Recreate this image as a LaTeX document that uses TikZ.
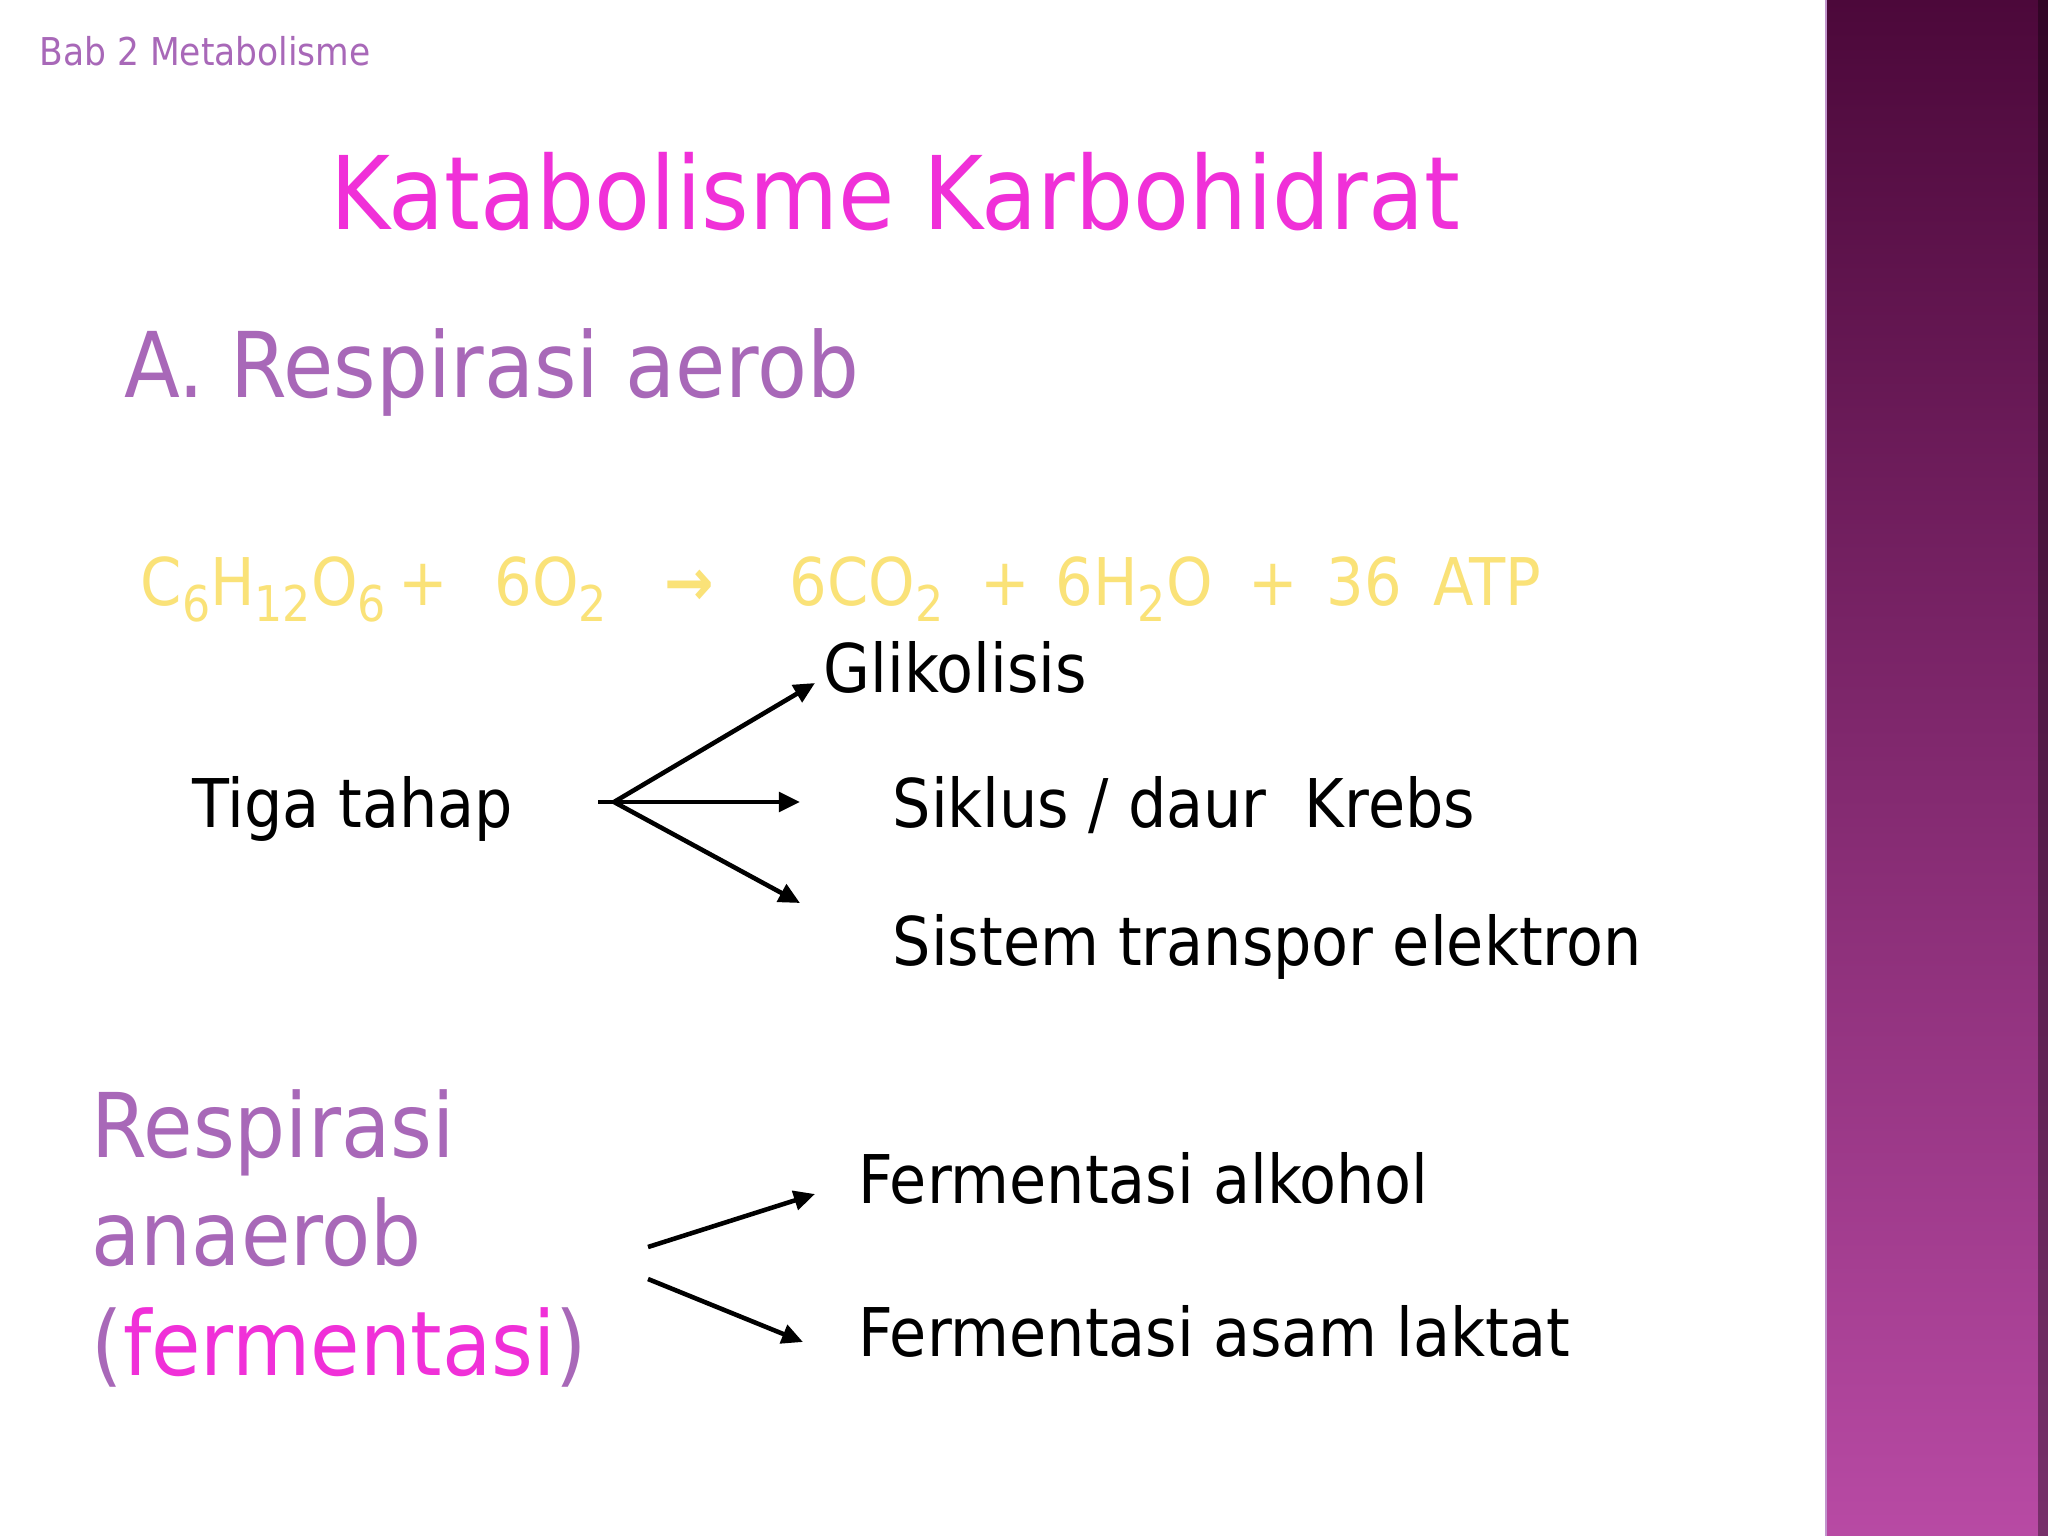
\documentclass[tikz,border=0pt]{standalone}
\usepackage{fontspec}
\setmainfont{DejaVu Sans Condensed}
\usetikzlibrary{arrows.meta}

\definecolor{ungu}{RGB}{168,104,184}
\definecolor{merahmuda}{RGB}{240,48,216}
\definecolor{kuning}{RGB}{250,226,120}
\definecolor{pitaatas}{RGB}{76,8,58}
\definecolor{pitatengah}{RGB}{128,46,112}
\definecolor{pitabawah}{RGB}{184,74,164}

\newcommand{\bawah}[1]{\raisebox{-0.45ex}{\fontsize{14}{14}\selectfont #1}}

\tikzset{
  teks/.style={anchor=base west, inner sep=0pt, font=\fontsize{19.1}{22}\selectfont},
  rumus/.style={teks, text=kuning, font=\fontsize{18.7}{22}\selectfont},
  judul/.style={anchor=base west, inner sep=0pt},
  panah/.style={line width=1.3pt, -{Triangle[length=6pt,width=5.5pt]}},
}

\begin{document}
\begin{tikzpicture}[x=0.01cm, y=-0.01cm]
    \useasboundingbox (0,0) rectangle (2048,1536);
    \fill[white] (0,0) rectangle (2048,1536);

    % pita di kanan
    \shade[top color=pitaatas, middle color=pitatengah, bottom color=pitabawah] (1826,0) rectangle (2048,1536);
    \fill[black, opacity=0.35] (2038,0) rectangle (2048,1536);
    \draw[ungu!70, line width=0.6pt] (1826,0) -- (1826,1536);

    % judul
    \node[judul, text=ungu, font=\fontsize{10.9}{13}\selectfont] (bab) at (39,65) {Bab 2 Metabolisme};
    \node[judul, text=merahmuda, font=\fontsize{28.9}{34}\selectfont] (judul) at (330,229) {Katabolisme Karbohidrat};
    \node[judul, text=ungu, font=\fontsize{25.8}{31}\selectfont] (aerob) at (124,397) {A. Respirasi aerob};

    % persamaan reaksi
    \node[rumus] (glukosa) at (140,605) {C\bawah{6}H\bawah{12}O\bawah{6}};
    \node[rumus] (plus1) at (398,605) {+};
    \node[rumus] (oksigen) at (494,605) {6O\bawah{2}};
    \node[rumus, font=\fontsize{18.7}{22}\bfseries] (reaksi) at (664,605) {→};
    \node[rumus] (karbon) at (789,605) {6CO\bawah{2}};
    \node[rumus] (plus2) at (980,605) {+};
    \node[rumus] (air) at (1055,605) {6H\bawah{2}O};
    \node[rumus] (plus3) at (1248,605) {+};
    \node[rumus] (jumlah) at (1326,605) {36};
    \node[rumus] (atp) at (1433,605) {ATP};

    % tiga tahap
    \node[teks] (tiga) at (192,827) {Tiga tahap};
    \node[teks] (glikolisis) at (823,692) {Glikolisis};
    \node[teks] (krebs) at (892,827) {Siklus / daur\ \ Krebs};
    \node[teks] (ste) at (892,965) {Sistem transpor elektron};

    \coordinate (awal) at (598,802);
    \coordinate (cabang) at (614,802);
    \coordinate (ujung1) at (815,683);
    \coordinate (ujung2) at (800,802);
    \coordinate (ujung3) at (800,903);

    \draw[line width=1.3pt] (awal) -- (cabang);
    \draw[panah] (cabang) -- (ujung1);
    \draw[panah] (cabang) -- (ujung2);
    \draw[panah] (cabang) -- (ujung3);

    % respirasi anaerob
    \node[judul, text=ungu, font=\fontsize{25.4}{31}\selectfont] (anaerob1) at (91,1157) {Respirasi};
    \node[judul, text=ungu, font=\fontsize{25.4}{31}\selectfont] (anaerob2) at (91,1265) {anaerob};
    \node[judul, text=ungu, font=\fontsize{25.4}{31}\selectfont] (anaerob3) at (91,1375) {(\textcolor{merahmuda}{fermentasi})};

    \node[teks] (alkohol) at (858,1203) {Fermentasi alkohol};
    \node[teks] (laktat) at (858,1356) {Fermentasi asam laktat};

    \coordinate (mulai1) at (648,1247);
    \coordinate (akhir1) at (815,1194);
    \coordinate (mulai2) at (648,1279);
    \coordinate (akhir2) at (803,1342);

    \draw[panah] (mulai1) -- (akhir1);
    \draw[panah] (mulai2) -- (akhir2);

\end{tikzpicture}
\end{document}
